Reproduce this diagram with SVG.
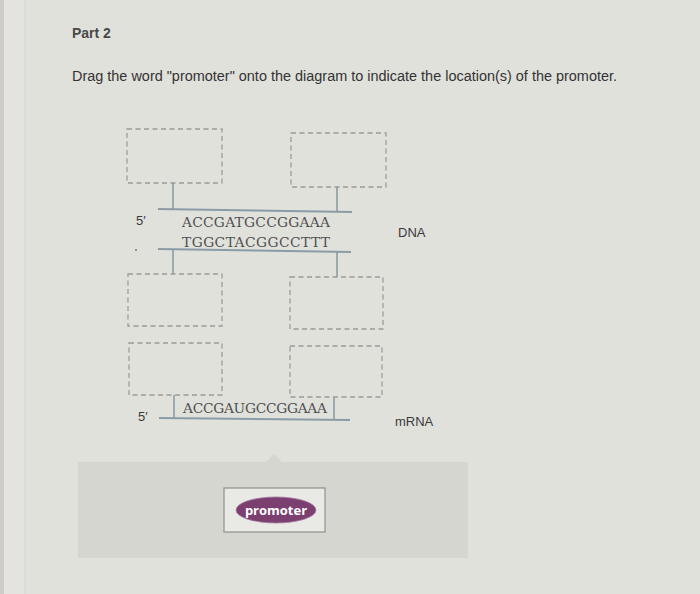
<svg xmlns="http://www.w3.org/2000/svg" width="700" height="594" viewBox="0 0 700 594">
  <style>
    .bg { fill: #e1e1dc; }
    .drop { fill: none; stroke: #9b9b98; stroke-width: 1.3; stroke-dasharray: 5 3.5; }
    .strand { stroke: #8b9ba6; stroke-width: 2; fill: none; }
    .tick { stroke: #8b9ba6; stroke-width: 1.6; fill: none; }
    .seq { font-family: "DejaVu Serif", "Liberation Serif", serif; font-size: 13.8px; fill: #4e4e4e; }
    .lbl { font-family: "Liberation Sans", Arial, sans-serif; font-size: 13px; fill: #3a3a3a; }
    .head { font-family: "Liberation Sans", Arial, sans-serif; fill: #333; }
  </style>
  <rect class="bg" x="0" y="0" width="700" height="594"/>
  <rect x="0" y="0" width="4" height="594" fill="#cdcdc8"/>
  <rect x="4" y="0" width="21" height="594" fill="#e4e3df"/>
  <line x1="25" y1="0" x2="25" y2="594" stroke="#d6d6d1" stroke-width="1"/>

  <g id="title">
    <text class="head" x="72" y="38" font-size="14" font-weight="bold" fill-opacity="0.9">Part 2</text>
  </g>
  <g id="instruction">
    <text class="head" x="72" y="81" font-size="14" textLength="545" lengthAdjust="spacingAndGlyphs">Drag the word "promoter" onto the diagram to indicate the location(s) of the promoter.</text>
  </g>

  <g id="box-top-left"><rect class="drop" x="127" y="129" width="95" height="54"/></g>
  <g id="box-top-right"><rect class="drop" x="291" y="133" width="95" height="54"/></g>
  <g id="box-mid-left"><rect class="drop" x="128" y="274" width="94" height="52"/></g>
  <g id="box-mid-right"><rect class="drop" x="290" y="277" width="93" height="52"/></g>
  <g id="box-low-left"><rect class="drop" x="129" y="343" width="93" height="52"/></g>
  <g id="box-low-right"><rect class="drop" x="290" y="346" width="92" height="51"/></g>

  <g id="dna">
    <line class="strand" x1="158" y1="209" x2="352" y2="212"/>
    <line class="strand" x1="158" y1="249" x2="351" y2="252"/>
    <text class="lbl" x="136" y="225">5′</text>
    <circle cx="136" cy="250" r="1" fill="#777"/>
    <text class="seq" x="182" y="227" textLength="148" lengthAdjust="spacing">ACCGATGCCGGAAA</text>
    <text class="seq" x="182" y="247" textLength="148" lengthAdjust="spacing">TGGCTACGGCCTTT</text>
    <text class="lbl" x="398" y="237">DNA</text>
  </g>

  <g id="mrna">
    <line class="strand" x1="159" y1="418" x2="350" y2="420"/>
    <text class="lbl" x="138" y="421">5′</text>
    <text class="seq" x="183" y="413" textLength="144" lengthAdjust="spacing">ACCGAUGCCGGAAA</text>
    <text class="lbl" x="395" y="426">mRNA</text>
  </g>

  <g id="connectors">
    <line class="tick" x1="173" y1="183" x2="173" y2="209"/>
    <line class="tick" x1="337" y1="187" x2="337" y2="212"/>
    <line class="tick" x1="173" y1="249" x2="173" y2="274"/>
    <line class="tick" x1="337" y1="252" x2="337" y2="277"/>
    <line class="tick" x1="174" y1="395" x2="174" y2="418"/>
    <line class="tick" x1="334" y1="397" x2="334" y2="420"/>
  </g>

  <g id="word-bank">
    <path d="M78 462 H266 L274 454 L282 462 H468 V558 H78 Z" fill="#d6d6d1"/>
    <rect x="224" y="488" width="101" height="44" fill="#e9e9e5" stroke="#8f8f8a" stroke-width="1.2"/>
    <ellipse cx="276" cy="510" rx="40" ry="13" fill="#7b3f70" stroke="#a77a9e" stroke-width="0.8"/>
    <text x="276" y="514.5" text-anchor="middle" font-family="'Open Sans', 'Liberation Sans', sans-serif" font-size="13" font-weight="bold" fill="#ffffff">promoter</text>
  </g>
</svg>
